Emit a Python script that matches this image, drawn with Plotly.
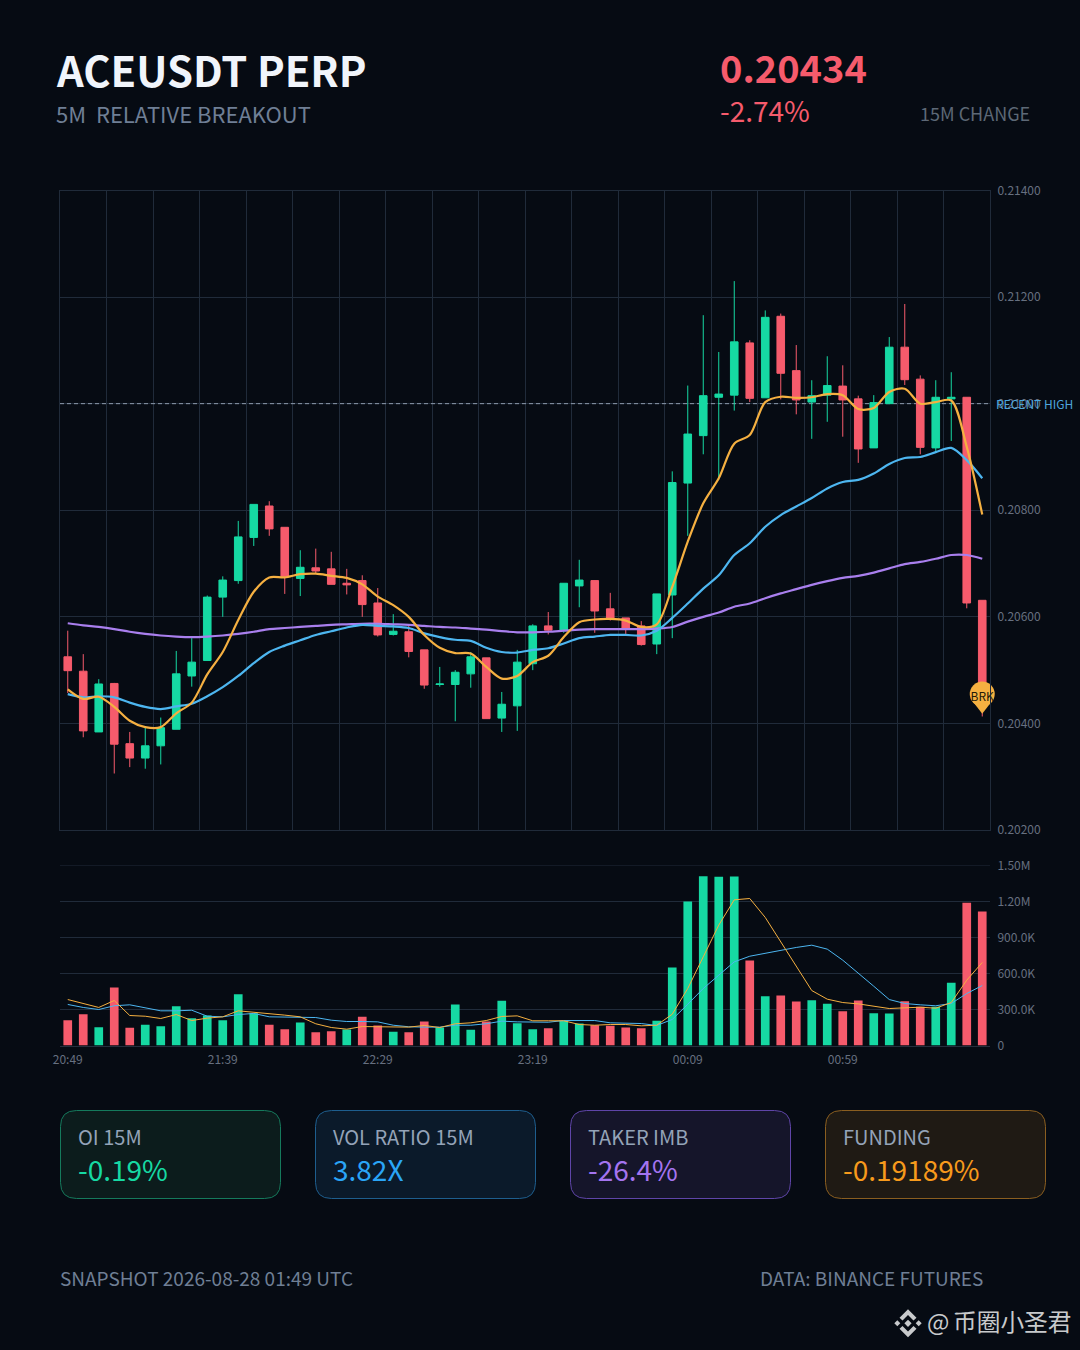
import plotly.graph_objects as go

# ---------- DATA ----------
opens = [0.20525,0.20498,0.20384,0.20475,0.20362,0.20335,0.20358,0.20389,0.20489,0.20518,
         0.20637,0.20668,0.20749,0.20808,0.20768,0.20672,0.20692,0.20690,0.20663,0.20668,
         0.20626,0.20567,0.20572,0.20538,0.20473,0.20473,0.20493,0.20523,0.20410,0.20433,
         0.20512,0.20583,0.20575,0.20658,0.20668,0.20615,0.20598,0.20583,0.20549,0.20641,
         0.20851,0.20940,0.21012,0.21016,0.21114,0.21011,0.21164,0.21062,0.21003,0.21016,
         0.21033,0.21009,0.20917,0.21000,0.21106,0.21046,0.20917,0.21009,0.21012,0.20631]
closes = [0.20499,0.20386,0.20474,0.20361,0.20335,0.20358,0.20392,0.20493,0.20515,0.20637,
          0.20669,0.20750,0.20811,0.20765,0.20675,0.20693,0.20686,0.20661,0.20660,0.20623,
          0.20566,0.20573,0.20535,0.20472,0.20474,0.20496,0.20525,0.20409,0.20436,0.20515,
          0.20583,0.20575,0.20663,0.20669,0.20611,0.20595,0.20578,0.20548,0.20643,0.20852,
          0.20943,0.21015,0.21018,0.21116,0.21010,0.21162,0.21057,0.21007,0.21015,0.21034,
          0.21007,0.20915,0.21002,0.21106,0.21045,0.20918,0.21012,0.21012,0.20626,0.20434]
highs = [0.20574,0.20530,0.20483,0.20476,0.20384,0.20393,0.20411,0.20536,0.20560,0.20640,
         0.20676,0.20780,0.20811,0.20817,0.20768,0.20725,0.20728,0.20722,0.20690,0.20678,
         0.20654,0.20605,0.20583,0.20538,0.20506,0.20500,0.20534,0.20523,0.20459,0.20538,
         0.20586,0.20609,0.20663,0.20707,0.20668,0.20645,0.20598,0.20592,0.20643,0.20873,
         0.21034,0.21166,0.21097,0.21230,0.21119,0.21175,0.21169,0.21110,0.21044,0.21089,
         0.21072,0.21015,0.21016,0.21125,0.21187,0.21053,0.21044,0.21059,0.21012,0.20631]
lows = [0.20457,0.20374,0.20384,0.20306,0.20318,0.20315,0.20323,0.20389,0.20469,0.20518,
        0.20600,0.20662,0.20733,0.20752,0.20643,0.20639,0.20682,0.20661,0.20642,0.20600,
        0.20563,0.20565,0.20524,0.20465,0.20469,0.20404,0.20467,0.20409,0.20384,0.20386,
        0.20500,0.20567,0.20570,0.20618,0.20570,0.20593,0.20568,0.20546,0.20530,0.20560,
        0.20752,0.20905,0.20857,0.20987,0.21003,0.21011,0.21008,0.20980,0.20934,0.20966,
        0.20938,0.20889,0.20917,0.21000,0.21035,0.20905,0.20910,0.20930,0.20616,0.20413]

ema_fast = [0.20464,0.20446,0.20450,0.20431,0.20405,0.20393,0.20393,0.20419,0.20439,0.20492,
            0.20534,0.20594,0.20647,0.20674,0.20674,0.20680,0.20681,0.20677,0.20673,0.20661,
            0.20638,0.20622,0.20600,0.20566,0.20542,0.20532,0.20531,0.20506,0.20484,0.20489,
            0.20515,0.20527,0.20562,0.20590,0.20595,0.20596,0.20593,0.20581,0.20586,0.20656,
            0.20741,0.20813,0.20860,0.20925,0.20941,0.21003,0.21013,0.21011,0.21012,0.21018,
            0.21016,0.20990,0.20992,0.21022,0.21028,0.21000,0.21003,0.21006,0.20919,0.20792]
ema_mid = [0.20455,0.20449,0.20451,0.20449,0.20439,0.20431,0.20427,0.20432,0.20437,0.20451,
           0.20468,0.20489,0.20513,0.20534,0.20546,0.20556,0.20566,0.20573,0.20580,0.20585,
           0.20583,0.20582,0.20579,0.20569,0.20562,0.20557,0.20555,0.20542,0.20534,0.20533,
           0.20538,0.20541,0.20550,0.20560,0.20563,0.20566,0.20566,0.20565,0.20574,0.20598,
           0.20625,0.20653,0.20678,0.20716,0.20738,0.20769,0.20791,0.20807,0.20823,0.20841,
           0.20853,0.20857,0.20869,0.20887,0.20898,0.20900,0.20909,0.20917,0.20894,0.20860]
ema_slow = [0.20588,0.20584,0.20581,0.20577,0.20572,0.20568,0.20565,0.20563,0.20562,0.20563,
            0.20565,0.20568,0.20572,0.20577,0.20579,0.20581,0.20583,0.20585,0.20586,0.20587,
            0.20587,0.20586,0.20585,0.20583,0.20581,0.20580,0.20578,0.20576,0.20573,0.20571,
            0.20571,0.20572,0.20574,0.20576,0.20577,0.20577,0.20577,0.20577,0.20578,0.20581,
            0.20591,0.20600,0.20608,0.20619,0.20625,0.20635,0.20644,0.20652,0.20660,0.20667,
            0.20673,0.20677,0.20683,0.20691,0.20699,0.20703,0.20709,0.20716,0.20716,0.20709]

volumes = [211000,261000,153000,483000,147000,172000,161000,328000,228000,250000,
           211000,428000,269000,172000,136000,192000,111000,119000,133000,239000,
           167000,114000,111000,200000,150000,342000,131000,200000,372000,186000,
           136000,144000,206000,183000,169000,164000,150000,144000,206000,650000,
           1200000,1411000,1406000,1408000,708000,411000,417000,367000,378000,347000,
           286000,375000,269000,267000,369000,322000,322000,522000,1189000,1117000]
volume_up = [0,0,1,0,0,1,1,1,1,1,1,1,1,0,0,1,0,0,1,0,
             0,1,0,0,1,1,1,0,1,1,1,0,1,1,0,0,0,0,1,1,
             1,1,1,1,0,1,0,0,1,1,0,0,1,1,0,0,1,1,0,0]
vol_ma_fast = [383000,353000,317000,375000,250000,244000,225000,258000,208000,228000,
               239000,289000,278000,269000,253000,239000,181000,150000,136000,158000,
               158000,158000,153000,167000,150000,181000,189000,208000,242000,247000,
               206000,206000,206000,175000,169000,175000,175000,164000,169000,261000,
               475000,739000,1003000,1214000,1225000,1067000,864000,656000,458000,386000,
               358000,347000,328000,308000,314000,319000,311000,358000,544000,692000]
vol_ma_slow = [342000,317000,300000,331000,339000,314000,289000,289000,294000,244000,
               239000,258000,267000,239000,239000,239000,233000,211000,200000,200000,
               197000,169000,156000,153000,153000,169000,169000,181000,203000,197000,
               194000,194000,208000,206000,208000,189000,189000,183000,167000,217000,
               344000,475000,586000,697000,744000,769000,794000,817000,836000,803000,
               711000,606000,494000,383000,350000,339000,331000,350000,433000,500000]

bar_index = list(range(60))
price_ticks = [0.202,0.204,0.206,0.208,0.210,0.212,0.214]
price_tick_text = ["0.20200","0.20400","0.20600","0.20800","0.21000","0.21200","0.21400"]
vol_ticks = [0,300000,600000,900000,1200000,1500000]
vol_tick_text = ["0","300.0K","600.0K","900.0K","1.20M","1.50M"]
time_ticks = [0,10,20,30,40,50]
time_tick_text = ["20:49","21:39","22:29","23:19","00:09","00:59"]
recent_high = 0.2100
pin_bar = [59]
pin_head = [0.20455]
pin_tail = [0.20433]
pin_label = [0.20448]

cards = [("OI 15M","-0.19%"),("VOL RATIO 15M","3.82X"),("TAKER IMB","-26.4%"),("FUNDING","-0.19189%")]

# ---------- STYLE ----------
W, H = 1080, 1350
BG = "#060B13"
GRID = "#202B3A"
GREEN = "#16D9A3"
RED = "#F65B6C"
ORANGE = "#F5B041"
BLUE = "#4DB6F0"
PURPLE = "#A97FEE"
TICK = "#667080"
FONT = "Noto Sans CJK SC"
px = lambda x: x / W
py = lambda y: 1 - y / H

fig = go.Figure()
fig.add_trace(go.Candlestick(
    x=bar_index, open=opens, high=highs, low=lows, close=closes, xaxis="x", yaxis="y",
    increasing=dict(line=dict(color=GREEN, width=1), fillcolor=GREEN),
    decreasing=dict(line=dict(color=RED, width=1), fillcolor=RED),
    whiskerwidth=0, hoverinfo="skip", showlegend=False))
for vals, col in [(ema_slow, PURPLE), (ema_mid, BLUE), (ema_fast, ORANGE)]:
    fig.add_trace(go.Scatter(x=bar_index, y=vals, mode="lines", xaxis="x", yaxis="y",
                             line=dict(color=col, width=2.2, shape="spline", smoothing=0.85),
                             hoverinfo="skip", showlegend=False))
# BRK pin
fig.add_trace(go.Scatter(x=pin_bar, y=pin_tail, mode="markers", xaxis="x", yaxis="y", cliponaxis=False,
                         marker=dict(symbol="triangle-down", size=16, color=ORANGE, line=dict(width=0)),
                         hoverinfo="skip", showlegend=False))
fig.add_trace(go.Scatter(x=pin_bar, y=pin_head, mode="markers", xaxis="x", yaxis="y", cliponaxis=False,
                         marker=dict(symbol="circle", size=25, color=ORANGE, line=dict(width=0)),
                         hoverinfo="skip", showlegend=False))
fig.add_trace(go.Scatter(x=pin_bar, y=pin_label, mode="text", xaxis="x", yaxis="y", cliponaxis=False,
                         text=["BRK"], textposition="middle center",
                         textfont=dict(family=FONT, size=12, color="#241A08"),
                         hoverinfo="skip", showlegend=False))

fig.add_trace(go.Bar(x=bar_index, y=volumes, xaxis="x2", yaxis="y2", width=0.56,
                     marker=dict(color=[GREEN if u else RED for u in volume_up], line=dict(width=0)),
                     hoverinfo="skip", showlegend=False))
for vals, col in [(vol_ma_slow, BLUE), (vol_ma_fast, ORANGE)]:
    fig.add_trace(go.Scatter(x=bar_index, y=vals, mode="lines", xaxis="x2", yaxis="y2",
                             line=dict(color=col, width=1),
                             hoverinfo="skip", showlegend=False))

shapes = []
shapes.append(dict(type="line", xref="x", yref="y", x0=-0.5, x1=59.5, y0=recent_high, y1=recent_high,
                   line=dict(color="#8E9CAD", width=1, dash="4px,3px"), layer="between"))
shapes.append(dict(type="line", xref="x2", yref="y2", x0=-0.5, x1=59.5, y0=vol_ticks[-1], y1=vol_ticks[-1],
                   line=dict(color=GRID, width=1), layer="between"))

def rrect(x0, y0, x1, y1, r):
    X0, X1, Y0, Y1 = px(x0), px(x1), py(y0), py(y1)
    rx, ry = r / W, r / H
    return (f"M{X0+rx},{Y0} L{X1-rx},{Y0} Q{X1},{Y0} {X1},{Y0-ry} L{X1},{Y1+ry} Q{X1},{Y1} {X1-rx},{Y1} "
            f"L{X0+rx},{Y1} Q{X0},{Y1} {X0},{Y1+ry} L{X0},{Y0-ry} Q{X0},{Y0} {X0+rx},{Y0} Z")

card_x = [60.5, 315.5, 570.5, 825.5]
card_fill = ["#0C1C1C", "#0B1A2A", "#15152A", "#1F1A14"]
card_line = ["#157A5C", "#1E5E8E", "#5F45A8", "#8A5E20"]
card_val = ["#16D9A3", "#2AA5F7", "#A474F0", "#F79A1C"]
for cx, f, l in zip(card_x, card_fill, card_line):
    shapes.append(dict(type="path", xref="paper", yref="paper", path=rrect(cx, 1110.5, cx + 220, 1198.5, 16),
                       fillcolor=f, line=dict(color=l, width=1), layer="below"))

LOGO = "#C8CACC"
def poly(cx, cy, pts):
    s = "M" + " L".join(f"{px(cx+a)},{py(cy+b)}" for a, b in pts) + " Z"
    return dict(type="path", xref="paper", yref="paper", path=s, fillcolor=LOGO, line=dict(width=0), layer="above")
lx, ly = 908, 1323.3
dia = lambda r: [(0, -r), (r, 0), (0, r), (-r, 0)]
shapes.append(poly(lx, ly, dia(3.6)))
shapes.append(poly(lx - 10.7, ly, dia(3)))
shapes.append(poly(lx + 10.7, ly, dia(3)))
shapes.append(poly(lx, ly, [(0, -14), (8.5, -5.5), (5.5, -2.8), (0, -8.2), (-5.5, -2.8), (-8.5, -5.5)]))
shapes.append(poly(lx, ly, [(0, 14), (8.5, 5.5), (5.5, 2.8), (0, 8.2), (-5.5, 2.8), (-8.5, 5.5)]))

ann = []
def text(x, y, s, size, color, anchor="left", weight=None):
    t = f"<b>{s}</b>" if weight else s
    ann.append(dict(xref="paper", yref="paper", x=px(x), y=py(y), text=t, showarrow=False,
                    xanchor=anchor, yanchor="middle", align=anchor,
                    font=dict(family=FONT, size=size, color=color), borderpad=0, borderwidth=0))

text(56, 69.5, "ACEUSDT PERP", 41.7, "#F1F5FB", weight=True)
text(56, 113, "5M  RELATIVE BREAKOUT", 22, "#6F7F95")
text(720, 66.5, "0.20434", 38, RED, weight=True)
text(720, 110, "-2.74%", 28, RED)
text(1030, 112.5, "15M CHANGE", 18, "#5D6876", anchor="right")
for cx, (lab, val), c in zip(card_x, cards, card_val):
    text(cx + 17.5, 1136, lab, 20, "#94A3B8")
    text(cx + 17.5, 1169, val, 28, c)
text(60, 1277, "SNAPSHOT 2026-08-28 01:49 UTC", 19, "#6F7F95")
text(760, 1277, "DATA: BINANCE FUTURES", 19, "#6F7F95")
text(927, 1321, "@", 23.7, "#C8CACC")
text(953, 1321, "币圈小圣君", 23.7, "#C8CACC")
text(996, 403.2, "RECENT HIGH", 12, "#4DA5DC")

fig.update_layout(
    width=W, height=H, margin=dict(l=0, r=0, t=0, b=0, pad=0), autosize=False,
    paper_bgcolor=BG, plot_bgcolor=BG, showlegend=False, hovermode=False,
    font=dict(family=FONT), bargap=0.44, shapes=shapes, annotations=ann,
    xaxis=dict(domain=[px(60), px(990)], range=[-0.5, 59.5], anchor="y", rangeslider=dict(visible=False),
               tick0=-0.5, dtick=3, showticklabels=False, ticks="", showgrid=True, gridcolor=GRID, gridwidth=1,
               zeroline=False, showline=True, linecolor=GRID, mirror=True, automargin=False),
    yaxis=dict(domain=[py(830), py(190.5)], range=[0.202, 0.214], anchor="x", side="right",
               tickvals=price_ticks, ticktext=price_tick_text, ticks="outside", ticklen=4, tickcolor="rgba(0,0,0,0)",
               tickfont=dict(family=FONT, size=12, color=TICK), showgrid=True, gridcolor=GRID, gridwidth=1,
               zeroline=False, showline=True, linecolor=GRID, mirror=True, automargin=False),
    xaxis2=dict(domain=[px(60), px(990)], range=[-0.5, 59.5], anchor="y2",
                tickvals=time_ticks, ticktext=time_tick_text, ticks="outside", ticklen=3, tickcolor="rgba(0,0,0,0)",
                showgrid=False, zeroline=False, automargin=False,
                tickfont=dict(family=FONT, size=12, color=TICK), showline=True, linecolor="#252F3D"),
    yaxis2=dict(domain=[py(1045.5), py(865.5)], range=[0, 1500000], anchor="x2", side="right",
                tickvals=vol_ticks, ticktext=vol_tick_text, ticks="outside", ticklen=4, tickcolor="rgba(0,0,0,0)",
                tickfont=dict(family=FONT, size=12, color=TICK), showgrid=True, gridcolor=GRID, gridwidth=1,
                zeroline=False, automargin=False),
)

post = """
document.documentElement.style.margin='0';
document.documentElement.style.background='#060B13';
document.body.style.margin='0';
document.body.style.background='#060B13';
document.body.style.overflow='hidden';
"""
fig.write_html("out.html", include_plotlyjs=True, config=dict(displayModeBar=False), post_script=post)
